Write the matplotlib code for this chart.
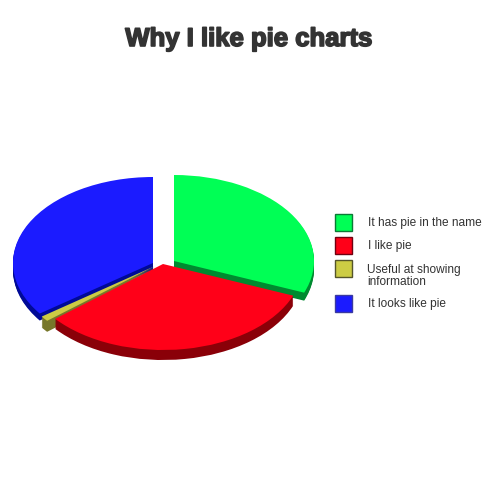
import matplotlib
matplotlib.use("Agg")
import matplotlib.pyplot as plt
from matplotlib.patches import Wedge, Rectangle
import matplotlib.patheffects as pe

title = "Why I like pie charts"
categories = ["It has pie in the name", "I like pie", "Useful at showing\ninformation", "It looks like pie"]
values = [31.0, 33.0, 1.0, 35.0]

colors = ["#00FF55", "#FF0018", "#CCCC44", "#1B1BFF"]
darks = ["#008A30", "#8A0008", "#77772A", "#000A96"]
edge = ["#0A7A35", "#700010", "#55552A", "#3A3AA0"]

W, H = 500, 494
RX, RY = 140.0, 86.0      # ellipse radii in px
depths = [8, 10, 11, 7]   # pie thickness in px
centres = [(174, 261), (163, 264), (155, 266), (153, 263)]
draw_order = [3, 2, 0, 1]

fig = plt.figure(figsize=(W / 100, H / 100), dpi=100, facecolor="white")
ax = fig.add_axes([0, 0, 1, 1])
ax.set_xlim(0, W / RX)
ax.set_ylim(0, H / RY)
ax.set_aspect("auto")
ax.axis("off")

px = lambda x: x / RX
py = lambda y: (H - y) / RY

# start at 12 o'clock, go clockwise
spans = []
a = 90.0
total = sum(values)
for v in values:
    b = a - 360.0 * v / total
    spans.append((b, a))
    a = b

for i in draw_order:
    cx, cy = centres[i]
    t1, t2 = spans[i]
    z = 2 + draw_order.index(i)
    for d in range(depths[i], 0, -1):
        ax.add_patch(Wedge((px(cx), py(cy + d)), 1.0, t1, t2, facecolor=darks[i], edgecolor="none", zorder=z))
    ax.add_patch(Wedge((px(cx), py(cy)), 1.0, t1, t2, facecolor=colors[i], edgecolor="none", zorder=z))

fig.text(249 / W, 1 - 39 / H, title, ha="center", va="center", fontsize=18.5,
         family="Liberation Sans", fontweight="bold", color="#333333",
         path_effects=[pe.withStroke(linewidth=1.2, foreground="#333333")])

swatch_y = [222, 245.5, 268.5, 303]
text_x = [368, 368, 367, 368]
text_y = [223, 246, 276, 303.5]
for i, lab in enumerate(categories):
    ax.add_patch(Rectangle((px(335.5), py(swatch_y[i] + 8.5)), 17 / RX, 17 / RY,
                           facecolor=colors[i], edgecolor=edge[i], linewidth=1.0, zorder=5))
    ax.text(px(text_x[i]), py(text_y[i]), lab, ha="left", va="center", fontsize=8.6,
            family="Liberation Sans", color="#333333", linespacing=1.0, zorder=6)

fig.savefig("out.png", dpi=100, facecolor="white")
